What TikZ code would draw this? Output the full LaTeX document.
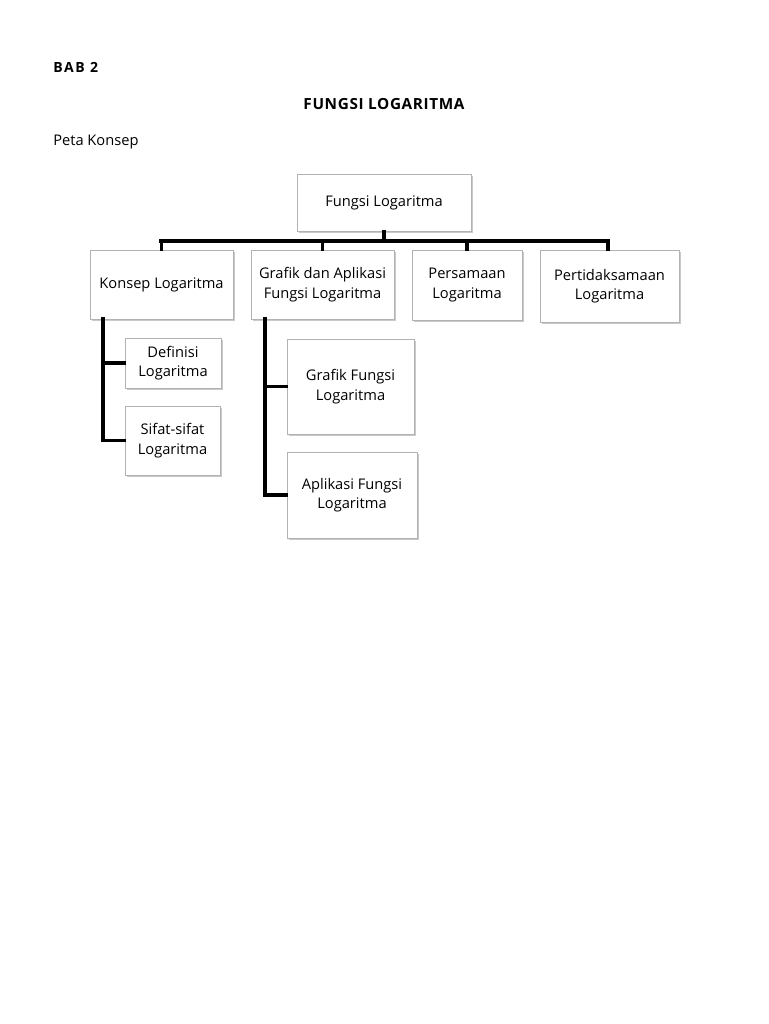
\documentclass[tikz,border=0pt]{standalone}
\usepackage{fontspec}
\setmainfont{Open Sans}
\usetikzlibrary{shadows}
\begin{document}
\begin{tikzpicture}[x=0.75pt,y=-0.75pt,
  box/.style={draw=black!30, line width=0.6pt, fill=white, align=center, inner sep=0pt,
    font=\fontsize{11}{14.5}\selectfont,
    drop shadow={shadow xshift=1.2pt, shadow yshift=-1.2pt, fill=black!35, opacity=0.6}},
  conn/.style={line width=2.3pt, line cap=rect},
  title/.style={font=\fontsize{10.5}{12}\selectfont\bfseries\addfontfeature{LetterSpace=12}, anchor=west, inner sep=0pt}]
\useasboundingbox (0,0) rectangle (768,1024);
\fill[white] (0,0) rectangle (768,1024);
% headings
\node[title] (bab) at (53,67) {BAB 2};
\node[font=\fontsize{11.5}{12}\selectfont\bfseries\addfontfeature{LetterSpace=4}] (judul) at (384,104) {FUNGSI LOGARITMA};
\node[anchor=west, inner sep=0pt, font=\fontsize{11}{12}\selectfont] (peta) at (53,142) {Peta Konsep};
% boxes
\node[box, minimum width=174*0.75pt, minimum height=57*0.75pt] (top) at (384,202.5) {Fungsi Logaritma};
\node[box, minimum width=143*0.75pt, minimum height=69*0.75pt] (konsep) at (161.5,284.5) {Konsep Logaritma};
\node[box, minimum width=143*0.75pt, minimum height=69*0.75pt] (grafik) at (322.5,284.5) {Grafik dan Aplikasi\\Fungsi Logaritma};
\node[box, minimum width=110*0.75pt, minimum height=70*0.75pt] (pers) at (467,285) {Persamaan\\Logaritma};
\node[box, minimum width=139*0.75pt, minimum height=72*0.75pt] (pert) at (609.5,286) {Pertidaksamaan\\Logaritma};
\node[box, minimum width=96*0.75pt, minimum height=50*0.75pt] (def) at (173,363) {Definisi\\Logaritma};
\node[box, minimum width=95*0.75pt, minimum height=69*0.75pt] (sif) at (172.5,440.5) {Sifat-sifat\\Logaritma};
\node[box, minimum width=127*0.75pt, minimum height=95*0.75pt] (gf) at (350.5,386.5) {Grafik Fungsi\\Logaritma};
\node[box, minimum width=130*0.75pt, minimum height=86*0.75pt] (af) at (352,495) {Aplikasi Fungsi\\Logaritma};
% bus
\coordinate (busL) at (161,241);
\coordinate (busR) at (608,241);
\draw[conn] (top.south) -- (top.south |- busL);
\draw[conn] (busL) -- (busR);
\draw[conn] (konsep.north |- busL) -- (konsep.north);
\draw[conn] (grafik.north |- busL) -- (grafik.north);
\draw[conn] (pers.north |- busL) -- (pers.north);
\draw[conn] (busR) -- (busR |- pert.north);
% Konsep children
\coordinate (kx) at (103,319);
\draw[conn] (kx) -- (kx |- sif.west) -- (sif.west);
\draw[conn] (kx |- def.west) -- (def.west);
% Grafik children
\coordinate (gx) at (265,319);
\draw[conn] (gx) -- (gx |- af.west) -- (af.west);
\draw[conn] (gx |- gf.west) -- (gf.west);
\end{tikzpicture}
\end{document}
